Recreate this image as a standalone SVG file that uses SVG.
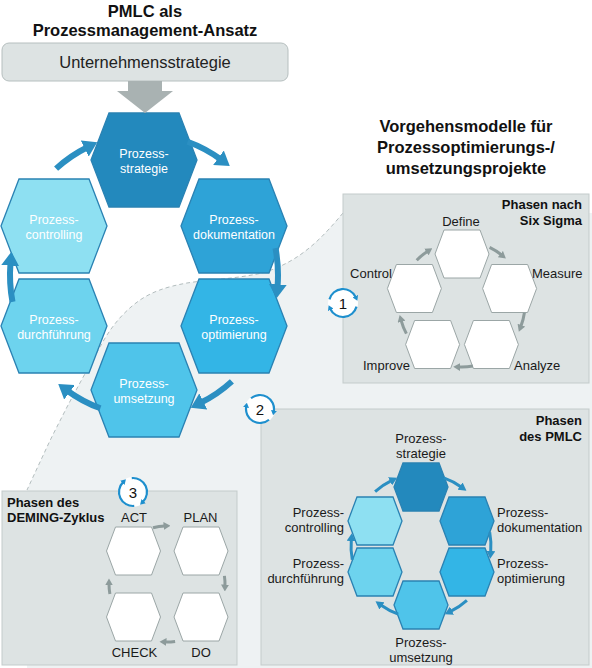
<svg xmlns="http://www.w3.org/2000/svg" xmlns:xlink="http://www.w3.org/1999/xlink" width="592" height="668" viewBox="0 0 592 668">
<style>
text{font-family:"Liberation Sans",Arial,Helvetica,sans-serif}
.ttl{font-size:16.5px;font-weight:bold;fill:#111;text-anchor:middle}
.hd{font-size:13px;font-weight:bold;fill:#111}
.hw{font-size:12.5px;fill:#fff;text-anchor:middle}
.lb{font-size:13px;fill:#1a1a1a}
.box{fill:#dde3e3;stroke:#c3cbcb;stroke-width:1}
.hs{fill:#fff;stroke:#9ba6a6;stroke-width:1}
.hb{stroke:#2a82b3;stroke-width:1.3}
.am{fill:none;stroke:#2b8fc2;stroke-width:6;marker-end:url(#mA)}
.ap{fill:none;stroke:#2b8fc2;stroke-width:3;marker-end:url(#mP)}
.ag{fill:none;stroke:#8d9b9b;stroke-width:3;marker-end:url(#mG)}
.ac{fill:none;stroke:#1e8fcd;stroke-width:2.2;marker-end:url(#mC)}
.num{font-size:15px;fill:#111;text-anchor:middle}
</style>
<defs>
<polygon id="hexL" points="-53,0 -35,-47 35,-47 53,0 35,47 -35,47"/>
<polygon id="hexS" points="-27,0 -18,-24 18,-24 27,0 18,24 -18,24"/>
<marker id="mA" viewBox="0 0 14 18" markerWidth="14" markerHeight="18" refX="3" refY="9" orient="auto" markerUnits="userSpaceOnUse"><path d="M0,0 L14,9 L0,18 Z" fill="#2b8fc2"/></marker>
<marker id="mP" viewBox="0 0 8 9" markerWidth="8" markerHeight="9" refX="1.5" refY="4.5" orient="auto" markerUnits="userSpaceOnUse"><path d="M0,0 L8,4.5 L0,9 Z" fill="#2b8fc2"/></marker>
<marker id="mG" viewBox="0 0 7 8" markerWidth="7" markerHeight="8" refX="1.5" refY="4" orient="auto" markerUnits="userSpaceOnUse"><path d="M0,0 L7,4 L0,8 Z" fill="#8d9b9b"/></marker>
<marker id="mC" viewBox="0 0 5 6" markerWidth="5" markerHeight="6" refX="1" refY="3" orient="auto" markerUnits="userSpaceOnUse"><path d="M0,0 L5,3 L0,6 Z" fill="#1e8fcd"/></marker>
</defs>

<!-- background fan -->
<g id="fan">
<path d="M343,213 C322,238 300,262 262,273 C235,279 205,280 187,283 C165,287 152,292 140,300 C120,314 108,332 100,347 C88,368 76,390 67,407 C60,421 53,434 47,447 L27,490 L27,668 L592,668 L592,213 Z" fill="#eef2f3"/>
<path d="M343,213 C322,238 300,262 262,273 C235,279 205,280 187,283 C165,287 152,292 140,300 C120,314 108,332 100,347 C88,368 76,390 67,407 C60,421 53,434 47,447 L27,490" fill="none" stroke="#b3bdbe" stroke-width="1" stroke-dasharray="4 3"/>
</g>

<!-- titles -->
<g id="title-left">
<text class="ttl" x="145" y="17">PMLC als</text>
<text class="ttl" x="145" y="36">Prozessmanagement-Ansatz</text>
</g>
<g id="title-right">
<text class="ttl" x="466" y="132">Vorgehensmodelle für</text>
<text class="ttl" x="466" y="153">Prozessoptimierungs-/</text>
<text class="ttl" x="466" y="174">umsetzungsprojekte</text>
</g>

<!-- Unternehmensstrategie -->
<g id="n-unternehmensstrategie">
<rect x="2" y="43" width="286" height="38" rx="7" fill="#dde3e3" stroke="#b6bfbf" stroke-width="1"/>
<text x="145" y="68" style="font-size:16.5px;fill:#222;text-anchor:middle">Unternehmensstrategie</text>
</g>

<!-- main cycle -->
<g id="n-strategie"><use href="#hexL" x="144" y="160" fill="#2389bd" class="hb"/><text class="hw" x="144" y="158">Prozess-</text><text class="hw" x="144" y="173">strategie</text></g>
<g id="n-dokumentation"><use href="#hexL" x="234" y="226" fill="#2ea3d7" class="hb"/><text class="hw" x="234" y="224">Prozess-</text><text class="hw" x="234" y="239">dokumentation</text></g>
<g id="n-optimierung"><use href="#hexL" x="234" y="326" fill="#33b5e6" class="hb"/><text class="hw" x="234" y="324">Prozess-</text><text class="hw" x="234" y="339">optimierung</text></g>
<g id="n-umsetzung"><use href="#hexL" x="144" y="390" fill="#4fc4ea" class="hb"/><text class="hw" x="144" y="388">Prozess-</text><text class="hw" x="144" y="403">umsetzung</text></g>
<g id="n-durchfuehrung"><use href="#hexL" x="54" y="326" fill="#6dd3ee" class="hb"/><text class="hw" x="54" y="324">Prozess-</text><text class="hw" x="54" y="339">durchführung</text></g>
<g id="n-controlling"><use href="#hexL" x="54" y="226" fill="#8ee0f2" class="hb"/><text class="hw" x="54" y="224">Prozess-</text><text class="hw" x="54" y="239">controlling</text></g>

<!-- Six Sigma box -->
<g id="n-sixsigma">
<rect class="box" x="343" y="194" width="246" height="189"/>
<text class="hd" x="582" y="209" text-anchor="end">Phasen nach</text>
<text class="hd" x="582" y="225" text-anchor="end">Six Sigma</text>
<use href="#hexS" x="462" y="254" class="hs"/>
<use href="#hexS" x="509.6" y="288.5" class="hs"/>
<use href="#hexS" x="491.4" y="344.5" class="hs"/>
<use href="#hexS" x="432.6" y="344.5" class="hs"/>
<use href="#hexS" x="414.4" y="288.5" class="hs"/>
<text class="lb" x="461" y="226" text-anchor="middle">Define</text>
<text class="lb" x="532" y="278">Measure</text>
<text class="lb" x="514" y="370">Analyze</text>
<text class="lb" x="363" y="370">Improve</text>
<text class="lb" x="392" y="278" text-anchor="end">Control</text>
</g>

<!-- PMLC box -->
<g id="n-pmlc">
<rect class="box" x="261" y="409" width="328" height="256"/>
<text class="hd" x="582" y="425" text-anchor="end">Phasen</text>
<text class="hd" x="582" y="441" text-anchor="end">des PMLC</text>
<use href="#hexS" x="421" y="487" fill="#2389bd" class="hb"/>
<use href="#hexS" x="467" y="521" fill="#2ea3d7" class="hb"/>
<use href="#hexS" x="467" y="572" fill="#33b5e6" class="hb"/>
<use href="#hexS" x="421" y="605" fill="#4fc4ea" class="hb"/>
<use href="#hexS" x="375" y="572" fill="#6dd3ee" class="hb"/>
<use href="#hexS" x="375" y="521" fill="#8ee0f2" class="hb"/>
<text class="lb" x="421" y="443" text-anchor="middle">Prozess-</text>
<text class="lb" x="421" y="458" text-anchor="middle">strategie</text>
<text class="lb" x="497" y="517">Prozess-</text>
<text class="lb" x="497" y="532">dokumentation</text>
<text class="lb" x="497" y="568">Prozess-</text>
<text class="lb" x="497" y="583">optimierung</text>
<text class="lb" x="421" y="647" text-anchor="middle">Prozess-</text>
<text class="lb" x="421" y="662" text-anchor="middle">umsetzung</text>
<text class="lb" x="344" y="568" text-anchor="end">Prozess-</text>
<text class="lb" x="344" y="583" text-anchor="end">durchführung</text>
<text class="lb" x="344" y="517" text-anchor="end">Prozess-</text>
<text class="lb" x="344" y="532" text-anchor="end">controlling</text>
</g>

<!-- Deming box -->
<g id="n-deming">
<rect class="box" x="2" y="491" width="235" height="174"/>
<text class="hd" x="7" y="507">Phasen des</text>
<text class="hd" x="7" y="522">DEMING-Zyklus</text>
<use href="#hexS" x="133.5" y="551" class="hs"/>
<use href="#hexS" x="201" y="551" class="hs"/>
<use href="#hexS" x="133.5" y="617" class="hs"/>
<use href="#hexS" x="201" y="617" class="hs"/>
<text class="lb" x="134" y="522" text-anchor="middle">ACT</text>
<text class="lb" x="200.5" y="522" text-anchor="middle">PLAN</text>
<text class="lb" x="134.5" y="657" text-anchor="middle">CHECK</text>
<text class="lb" x="201" y="657" text-anchor="middle">DO</text>
</g>

<!-- connectors -->
<g id="connectors">
<path d="M145,81 L145,86" fill="none"/>
<polygon points="128,81 162,81 162,91 173,91 145,113 117,91 128,91" fill="#a9b2b2"/>
<path class="am" d="M187.6,141.7 A134 141 0 0 1 220.9,159.5"/>
<path class="am" d="M275.5,248.1 A134 141 0 0 1 277.5,287.3"/>
<path class="am" d="M231.9,381.4 A134 141 0 0 1 200.6,402.8"/>
<path class="am" d="M100.4,408.3 A134 141 0 0 1 67.1,390.5"/>
<path class="am" d="M12.5,301.9 A134 141 0 0 1 10.5,262.7"/>
<path class="am" d="M56.1,168.6 A134 141 0 0 1 87.4,147.2"/>

<path class="ap" d="M443.8,477.9 A70 72 0 0 1 461.2,487.0"/>
<path class="ap" d="M489.7,532.3 A70 72 0 0 1 490.7,552.3"/>
<path class="ap" d="M466.9,600.3 A70 72 0 0 1 450.6,611.3"/>
<path class="ap" d="M398.2,614.1 A70 72 0 0 1 380.8,605.0"/>
<path class="ap" d="M352.3,559.7 A70 72 0 0 1 351.3,539.7"/>
<path class="ap" d="M375.1,491.7 A70 72 0 0 1 391.4,480.7"/>

<path class="ag" d="M489.6,247.4 A63 63 0 0 1 501.6,255.0"/>
<path class="ag" d="M524.4,312.8 A63 63 0 0 1 520.8,326.6"/>
<path class="ag" d="M472.9,366.0 A63 63 0 0 1 458.7,366.9"/>
<path class="ag" d="M406.4,333.6 A63 63 0 0 1 401.1,320.3"/>
<path class="ag" d="M416.7,260.2 A63 63 0 0 1 427.7,251.2"/>

<path class="ag" d="M153.0,527.7 A58 58 0 0 1 165.0,526.0"/>
<path class="ag" d="M224.4,575.9 A58 58 0 0 1 225.0,586.0"/>
<path class="ag" d="M175.1,641.4 A58 58 0 0 1 165.0,642.0"/>
<path class="ag" d="M109.9,594.1 A58 58 0 0 1 109.0,584.0"/>
</g>

<!-- numbered cycle icons -->
<g id="n-icon1" transform="translate(343,303)">
<circle r="15" fill="#fff"/>
<path class="ac" d="M-13.52,-3.62 A14 14 0 0 1 12.69,-5.92"/>
<path class="ac" d="M13.52,3.62 A14 14 0 0 1 -12.69,5.92"/>
<text class="num" x="0" y="5.5">1</text>
</g>
<g id="n-icon2" transform="translate(260,409)">
<circle r="15" fill="#fff"/>
<g transform="rotate(35)">
<path class="ac" d="M-13.52,-3.62 A14 14 0 0 1 12.69,-5.92"/>
<path class="ac" d="M13.52,3.62 A14 14 0 0 1 -12.69,5.92"/>
</g>
<text class="num" x="0" y="5.5">2</text>
</g>
<g id="n-icon3" transform="translate(133,492)">
<circle r="15" fill="#fff"/>
<g transform="rotate(70)">
<path class="ac" d="M-13.52,-3.62 A14 14 0 0 1 12.69,-5.92"/>
<path class="ac" d="M13.52,3.62 A14 14 0 0 1 -12.69,5.92"/>
</g>
<text class="num" x="0" y="5.5">3</text>
</g>
</svg>
